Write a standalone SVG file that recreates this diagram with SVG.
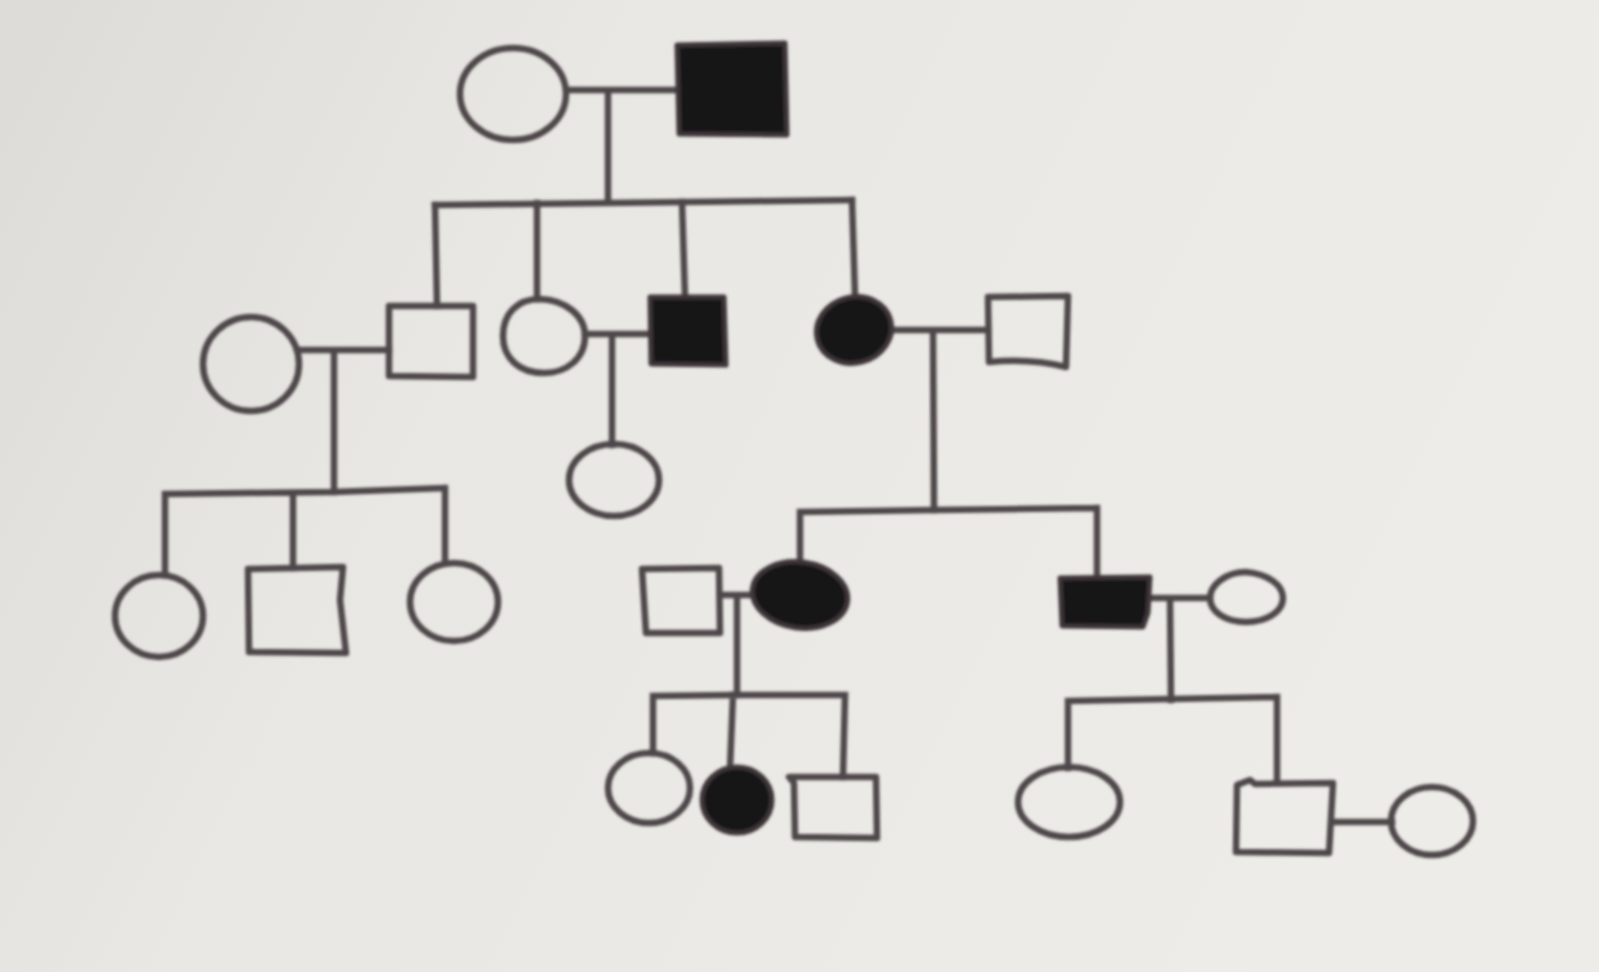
<svg xmlns="http://www.w3.org/2000/svg" width="1599" height="972" viewBox="0 0 1599 972">
<defs>
<linearGradient id="bg" x1="0" y1="0" x2="1" y2="0.3">
<stop offset="0" stop-color="#dcdbd8"/>
<stop offset="0.35" stop-color="#e8e7e3"/>
<stop offset="1" stop-color="#edece8"/>
</linearGradient>
<filter id="soft" x="-5%" y="-5%" width="110%" height="110%">
<feGaussianBlur stdDeviation="1.4"/>
</filter>
<style>
.ln{fill:none;stroke:#4e4649;stroke-width:6.5;stroke-linecap:square;stroke-linejoin:round}
.open{fill:none;stroke:#4e4649;stroke-width:6.5;stroke-linejoin:round}
.aff{fill:#121419;stroke:#3c3538;stroke-width:5;stroke-linejoin:round}
</style>
</defs>
<rect width="1599" height="972" fill="url(#bg)"/>
<g filter="url(#soft)">
<g id="connectors">
<path class="ln" d="M567 90H677M608 90V202"/>
<path class="ln" d="M435 205L608 203L852 200"/>
<path class="ln" d="M435 205L437 306M537 203L537 299M682 202L685 297M852 200L855 296"/>
<path class="ln" d="M300 350H389M334 350L334 492"/>
<path class="ln" d="M165 494L334 492L445 488M165 494V575M293 493V568M445 488V563"/>
<path class="ln" d="M585 334H650M612 334V445"/>
<path class="ln" d="M892 330H988M933 330L934 510"/>
<path class="ln" d="M800 512L934 510L1097 508M800 512V562M1097 508V577"/>
<path class="ln" d="M720 595H752M737 595V695"/>
<path class="ln" d="M653 696L737 695L845 695M653 696V753M733 695L730 768M845 695L843 777"/>
<path class="ln" d="M1152 598H1210M1170 598L1171 700"/>
<path class="ln" d="M1068 701L1171 699L1277 697M1068 701V768M1277 697V782"/>
<path class="ln" d="M1335 822H1392"/>
</g>
<g id="gen1-mother"><ellipse class="open" cx="513" cy="94" rx="53" ry="46"/></g>
<g id="gen1-father"><path class="aff" d="M677 45L785 43L787 135L679 134Z"/></g>
<g id="gen2-wife-a"><ellipse class="open" cx="251" cy="364" rx="48" ry="47"/></g>
<g id="gen2-son-a"><path class="open" d="M389 306L473 306L473 377L389 376Z"/></g>
<g id="gen2-daughter-b"><path class="open" d="M540 299C566 300 585 316 585 336C585 359 566 373 544 373C519 373 503 358 503 336C503 314 517 299 540 299Z"/></g>
<g id="gen2-son-b"><path class="aff" d="M650 297L724 297L726 365L651 364Z"/></g>
<g id="gen2-daughter-c"><ellipse class="aff" cx="854" cy="330" rx="38" ry="33" transform="rotate(-15 854 330)"/></g>
<g id="gen2-husband-c"><path class="open" d="M988 297L1068 296L1066 367Q1030 358 989 362Z"/></g>
<g id="gen3-child-b"><ellipse class="open" cx="614" cy="480" rx="45" ry="36"/></g>
<g id="gen3-a1"><ellipse class="open" cx="159" cy="616" rx="44" ry="41"/></g>
<g id="gen3-a2"><path class="open" d="M248 569L343 567L340 600L346 653L249 652Z"/></g>
<g id="gen3-a3"><ellipse class="open" cx="454" cy="602" rx="44" ry="39"/></g>
<g id="gen3-husband-c1"><path class="open" d="M642 569L719 568L720 633L646 633Z"/></g>
<g id="gen3-daughter-c1"><ellipse class="aff" cx="800" cy="595" rx="48" ry="33" transform="rotate(8 800 595)"/></g>
<g id="gen3-son-c2"><path class="aff" d="M1060 578L1150 577L1148 613L1143 627L1062 626Z"/></g>
<g id="gen3-wife-c2"><path class="open" d="M1246 572C1268 574 1283 585 1283 598C1283 612 1266 622 1246 622C1226 622 1210 612 1210 598C1210 585 1226 572 1246 572Z"/></g>
<g id="gen4-1"><ellipse class="open" cx="649" cy="788" rx="41" ry="35"/></g>
<g id="gen4-2"><ellipse class="aff" cx="737" cy="800" rx="35" ry="33"/></g>
<g id="gen4-3"><path class="open" d="M789 777L876 777L877 838L795 837L794 783Z"/></g>
<g id="gen4-4"><ellipse class="open" cx="1069" cy="802" rx="51" ry="35"/></g>
<g id="gen4-5"><path class="open" d="M1237 785L1250 780L1255 784L1333 783L1329 853L1236 852Z"/></g>
<g id="gen4-5-wife"><ellipse class="open" cx="1432" cy="821" rx="41" ry="34"/></g>
</g>
</svg>
